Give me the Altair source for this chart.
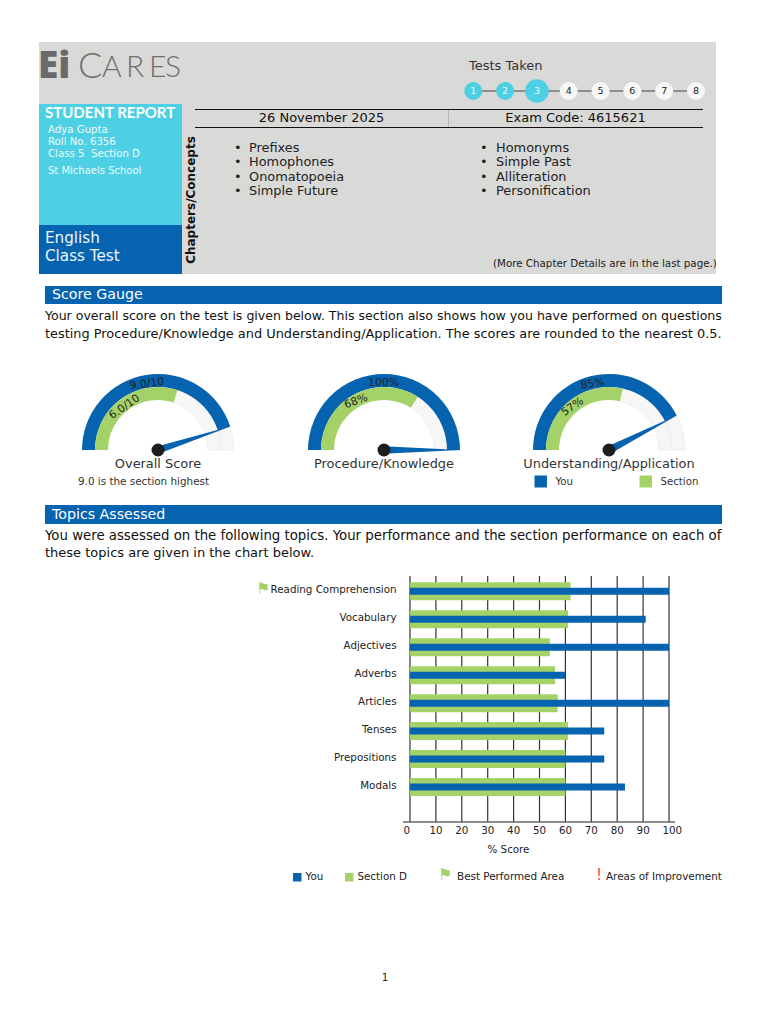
import altair as alt
import pandas as pd

BLUE = "#0563b0"
GREEN = "#a5d268"
CYAN = "#4dd0e4"
GREY = "#d9d9d8"
INK = "#222222"
OFF = 8
W, H = 752, 1008

topics = ["Reading Comprehension", "Vocabulary", "Adjectives", "Adverbs", "Articles", "Tenses", "Prepositions", "Modals"]
you_scores = [100, 91, 100, 60, 100, 75, 75, 83]
section_scores = [62, 61, 54, 56, 57, 61, 60, 60]
axis_ticks = [0, 10, 20, 30, 40, 50, 60, 70, 80, 90, 100]

gauge_names = ["Overall Score", "Procedure/Knowledge", "Understanding/Application"]
gauge_you = [90, 100, 85]
gauge_section = [60, 68, 57]

test_numbers = [1, 2, 3, 4, 5, 6, 7, 8]
test_states = ["done", "done", "current", "todo", "todo", "todo", "todo", "todo"]

layers = []


def label(t, x, y, size=11, color=INK, align="left", font="DejaVu Sans", weight="normal", angle=0):
    layers.append(
        alt.Chart(pd.DataFrame({"t": [t]}))
        .mark_text(x=x - OFF, y=y - OFF, fontSize=size, color=color, align=align, baseline="middle",
                   font=font, fontWeight=weight, angle=angle)
        .encode(text="t:N")
    )


def box(x0, x1, y0, y1, color):
    layers.append(
        alt.Chart(pd.DataFrame({"a": [0]}))
        .mark_rect(color=color)
        .encode(x=alt.value(x0 - OFF), x2=alt.value(x1 - OFF), y=alt.value(y0 - OFF), y2=alt.value(y1 - OFF))
    )


def hline(x0, x1, y, color, w=1):
    layers.append(
        alt.Chart(pd.DataFrame({"a": [0]}))
        .mark_rule(color=color, strokeWidth=w)
        .encode(x=alt.value(x0 - OFF), x2=alt.value(x1 - OFF), y=alt.value(y - OFF))
    )


def vline(x, y0, y1, color, w=1):
    layers.append(
        alt.Chart(pd.DataFrame({"a": [0]}))
        .mark_rule(color=color, strokeWidth=w)
        .encode(x=alt.value(x - OFF), y=alt.value(y0 - OFF), y2=alt.value(y1 - OFF))
    )


# ---------- header ----------
box(39, 716, 42, 274, GREY)
box(39, 182, 104, 225, CYAN)
box(39, 182, 225, 274, BLUE)
label("Ei", 38, 67, 37, "#6a6a6a", font="Open Sans", weight=800)
label("C", 78, 66.5, 36, "#6f6f6f", font="Lato", weight=300)
for letter, lx in zip("ARES", [102, 126, 149, 165]):
    label(letter, lx, 67.5, 30, "#6f6f6f", font="Lato", weight=300)
label("STUDENT REPORT", 45, 113, 15, "white", font="Lato", weight="bold")
label("Adya Gupta", 48, 129.5, 10.2, "#eefafc")
label("Roll No. 6356", 48, 141.5, 10.2, "#eefafc")
label("Class 5\u00a0\u00a0Section D", 48, 154, 10.2, "#eefafc")
label("St Michaels School", 48, 171, 10, "#eefafc")
label("English", 45, 238, 15.2, "#eef6fb")
label("Class Test", 45, 256, 15.2, "#eef6fb")
label("Chapters/Concepts", 191, 200, 12, "#111111", align="center", weight="bold", angle=270)
label("Tests Taken", 469, 65.5, 13, "#333333")

hline(195, 703, 109.5, "#111111")
hline(195, 703, 127.5, "#111111")
vline(448.5, 110, 127, "#b5b5b5")
label("26 November 2025", 321.5, 118, 13, "#111111", align="center")
label("Exam Code: 4615621", 575.5, 118, 13, "#111111", align="center")

chapters_left = ["Prefixes", "Homophones", "Onomatopoeia", "Simple Future"]
chapters_right = ["Homonyms", "Simple Past", "Alliteration", "Personification"]
rows = [147.5, 161.5, 176.5, 190.5]
for name, y in zip(chapters_left, rows):
    label("\u2022", 234, y, 12.9, "#222222")
    label(name, 249, y, 12.9, "#222222")
for name, y in zip(chapters_right, rows):
    label("\u2022", 480, y, 12.9, "#222222")
    label(name, 496, y, 12.9, "#222222")
label("(More Chapter Details are in the last page.)", 493, 264, 10.3, "#222222")

# tests-taken tracker
hline(473, 696, 91, "#444444")
tests = pd.DataFrame({"n": test_numbers, "state": test_states})
test_x = alt.X("n:Q", scale=alt.Scale(domain=[1, 8], range=[465.3, 688]), axis=None)
layers.append(
    alt.Chart(tests)
    .mark_point(filled=True, opacity=1, shape="circle", strokeWidth=0)
    .encode(
        x=test_x,
        y=alt.value(91 - OFF),
        size=alt.Size("state:N", scale=alt.Scale(type="ordinal", domain=["done", "current", "todo"], range=[324, 560, 324]), legend=None),
        color=alt.Color("state:N", scale=alt.Scale(domain=["done", "current", "todo"], range=[CYAN, CYAN, "#f7f7f7"]), legend=None),
    )
)
layers.append(
    alt.Chart(tests)
    .mark_text(fontSize=9.5, font="DejaVu Sans", baseline="middle")
    .encode(
        x=test_x,
        y=alt.value(91 - OFF),
        text="n:N",
        color=alt.Color("state:N", scale=alt.Scale(domain=["done", "current", "todo"], range=["#e8fafd", "#e8fafd", "#222222"]), legend=None),
    )
)

# ---------- score gauge ----------
box(45, 722, 286, 304, BLUE)
label("Score Gauge", 52, 295, 14.2, "white")
label("Your overall score on the test is given below. This section also shows how you have performed on questions", 45, 316, 12.56, "#111111")
label("testing Procedure/Knowledge and Understanding/Application. The scores are rounded to the nearest 0.5.", 45, 333.5, 12.9, "#111111")

theta_scale = alt.Scale(domain=[0, 100], range=[-1.5708, 1.5708])
hub_x = [158, 384, 609]
HUB_Y = 450
R0, R1, R2 = 76, 63, 50
for name, you, sec, cx in zip(gauge_names, gauge_you, gauge_section, hub_x):
    g = pd.DataFrame({"you": [you], "sec": [sec], "zero": [0], "full": [100]})
    pos = dict(x=alt.value(cx - OFF), y=alt.value(HUB_Y - OFF))
    layers.append(
        alt.Chart(g).mark_arc(radius=R0, radius2=R1, color="#f6f6f6", stroke="#e9e9e6", strokeWidth=0.6)
        .encode(theta=alt.Theta("you:Q", scale=theta_scale), theta2=alt.Theta2("full:Q"), **pos)
    )
    layers.append(
        alt.Chart(g).mark_arc(radius=R1, radius2=R2, color="#f6f6f6", stroke="#e9e9e6", strokeWidth=0.6)
        .encode(theta=alt.Theta("sec:Q", scale=theta_scale), theta2=alt.Theta2("full:Q"), **pos)
    )
    layers.append(
        alt.Chart(g).mark_arc(radius=R0, radius2=R1, color=BLUE)
        .encode(theta=alt.Theta("zero:Q", scale=theta_scale), theta2=alt.Theta2("you:Q"), **pos)
    )
    layers.append(
        alt.Chart(g).mark_arc(radius=R1, radius2=R2, color=GREEN)
        .encode(theta=alt.Theta("zero:Q", scale=theta_scale), theta2=alt.Theta2("sec:Q"), **pos)
    )
    layers.append(
        alt.Chart(g).mark_point(filled=True, opacity=1, color=BLUE, size=23104, strokeWidth=0,
                                shape="M-0.05,0L0,-1L0.05,0Z")
        .encode(angle=alt.Angle("you:Q", scale=alt.Scale(domain=[0, 100], range=[270, 450])), **pos)
    )
    layers.append(
        alt.Chart(g).mark_point(filled=True, opacity=1, color="#1d1d1d", size=169, strokeWidth=0, shape="circle").encode(**pos)
    )
    label(name, cx, 464, 12.9, "#333333", align="center")

label("9.0/10", 147, 384, 10.8, INK, align="center", angle=352)
label("6.0/10", 124.5, 407, 10.8, INK, align="center", angle=325)
label("100%", 383.5, 383, 10.8, INK, align="center")
label("68%", 356, 401.5, 10.8, INK, align="center", angle=340)
label("85%", 592.5, 384, 10.8, INK, align="center", angle=352)
label("57%", 572.5, 407, 10.8, INK, align="center", angle=325)
label("9.0 is the section highest", 78, 482, 10.4, "#333333")
box(534.5, 547, 475.5, 487.5, BLUE)
label("You", 555.5, 482, 10.2, "#333333")
box(639.5, 652, 475.5, 487.5, GREEN)
label("Section", 660.5, 482, 10.2, "#333333")

# ---------- topics ----------
box(45, 722, 505, 524, BLUE)
label("Topics Assessed", 52, 514.5, 14.2, "white")
label("You were assessed on the following topics. Your performance and the section performance on each of", 45, 535.5, 13.3, "#111111")
label("these topics are given in the chart below.", 45, 553, 13, "#111111")

bars = pd.DataFrame({"topic": topics, "you": you_scores, "section": section_scores})
ticks = pd.DataFrame({"v": axis_ticks})
x_scale = alt.Scale(domain=[0, 100], range=[402, 661])
y_scale = alt.Scale(domain=topics, range=[569.3, 793], paddingInner=0, paddingOuter=0)

layers.append(
    alt.Chart(ticks).mark_rule(color="#333333", strokeWidth=1.2, y=576 - OFF, y2=822 - OFF)
    .encode(x=alt.X("v:Q", scale=x_scale, axis=None))
)
hline(403, 675, 822, "#666666", 1.5)
layers.append(
    alt.Chart(bars).mark_bar(color=GREEN, size=18)
    .encode(
        x=alt.X("section:Q", scale=x_scale, axis=None),
        y=alt.Y("topic:N", sort=topics, scale=y_scale,
                axis=alt.Axis(title=None, orient="left", offset=-402, domain=False, ticks=False, labelPadding=14,
                              labelFontSize=10.3, labelFont="DejaVu Sans", labelColor=INK, labelOffset=-1,
                              labelLimit=200)),
    )
)
layers.append(
    alt.Chart(bars).mark_bar(color=BLUE, size=7)
    .encode(
        x=alt.X("you:Q", scale=x_scale,
                axis=alt.Axis(title="% Score", values=axis_ticks, orient="bottom", offset=-194, domain=False, ticks=False,
                              grid=False, labelAlign="left", labelOffset=-7, labelPadding=3, labelFontSize=10.3,
                              labelFont="DejaVu Sans", labelColor=INK, titleFont="DejaVu Sans", titleFontSize=10.3,
                              titleFontWeight="normal", titleColor=INK, titlePadding=9, titleX=500)),
        y=alt.Y("topic:N", sort=topics, scale=y_scale, axis=None),
    )
)

label("\u2691", 256, 589, 16, GREEN)
box(293, 301.5, 873, 881.5, BLUE)
label("You", 305.5, 877, 10.3, "#222222")
box(345, 353.5, 873, 881.5, GREEN)
label("Section D", 357.5, 877, 10.3, "#222222")
label("\u2691", 438, 875, 16, GREEN)
label("Best Performed Area", 457, 877, 10.4, "#222222")
label("!", 596, 875, 15, "#f04a4a")
label("Areas of Improvement", 606, 877, 10.4, "#222222")
label("1", 385, 977.5, 10.3, "#222222", align="center")

chart = (
    alt.layer(*layers)
    .resolve_scale(x="independent", y="independent", theta="independent", color="independent", size="independent", angle="independent")
    .properties(width=W, height=H, padding=0, autosize=alt.AutoSizeParams(type="none"))
    .configure_view(stroke=None)
)
chart.save("out.html", embed_options={"renderer": "svg", "actions": False})
